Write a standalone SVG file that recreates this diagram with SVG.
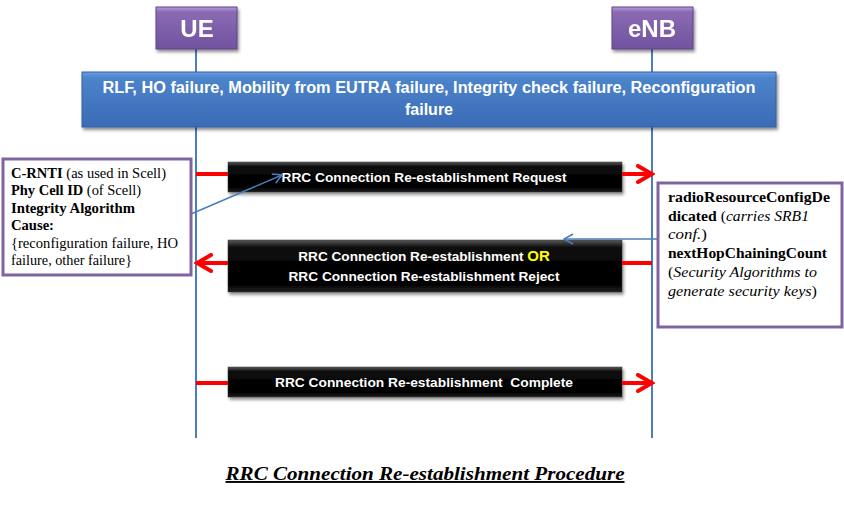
<svg xmlns="http://www.w3.org/2000/svg" width="844" height="506" viewBox="0 0 844 506">
<defs>
<linearGradient id="gPurple" x1="0" y1="0" x2="0" y2="1">
<stop offset="0" stop-color="#B79BDB"/><stop offset="0.12" stop-color="#8A6BB2"/><stop offset="1" stop-color="#7052A0"/>
</linearGradient>
<linearGradient id="gBlue" x1="0" y1="0" x2="0" y2="1">
<stop offset="0" stop-color="#6A9EE0"/><stop offset="0.1" stop-color="#4C84CC"/><stop offset="1" stop-color="#3A6BB4"/>
</linearGradient>
<linearGradient id="gBlack" x1="0" y1="0" x2="0" y2="1">
<stop offset="0" stop-color="#5a5a5a"/><stop offset="0.15" stop-color="#0a0a0a"/><stop offset="0.85" stop-color="#000"/><stop offset="1" stop-color="#222"/>
</linearGradient>
<filter id="shadow" x="-10%" y="-20%" width="120%" height="160%">
<feDropShadow dx="1.5" dy="2.5" stdDeviation="1.5" flood-color="#000" flood-opacity="0.45"/>
</filter>
<marker id="redArrow" markerUnits="userSpaceOnUse" viewBox="0 0 20 20" refX="17" refY="10" markerWidth="20" markerHeight="20" orient="auto">
<path d="M3,2 L17,10 L3,18" fill="none" stroke="#FF0000" stroke-width="4" stroke-linecap="round" stroke-linejoin="miter"/>
</marker>
<marker id="blueArrow" markerUnits="userSpaceOnUse" viewBox="0 0 12 12" refX="11" refY="6" markerWidth="12" markerHeight="12" orient="auto">
<path d="M2,1 L11,6 L2,11" fill="none" stroke="#4A7EBB" stroke-width="1.6"/>
</marker>
</defs>
<style>
.life{stroke:#4A7EBB;stroke-width:2;fill:none}
.msg{stroke:#FF0000;stroke-width:4;fill:none}
.head{marker-end:url(#redArrow)}
.note{stroke:#4A7EBB;stroke-width:1.5;fill:none;marker-end:url(#blueArrow)}
.actor{fill:url(#gPurple);stroke:#5E4589;stroke-width:1}
.actorText{font-family:"Liberation Sans",Arial,sans-serif;font-weight:bold;font-size:24px;fill:#fff;text-anchor:middle}
.banner{fill:url(#gBlue);stroke:#3461A3;stroke-width:1}
.bannerText{font-family:"Liberation Sans",Arial,sans-serif;font-weight:bold;font-size:16px;fill:#fff;text-anchor:middle}
.mbox{fill:url(#gBlack);stroke:#333;stroke-width:0.5}
.mText{font-family:"Liberation Sans",Arial,sans-serif;font-weight:bold;font-size:13px;fill:#fff;text-anchor:middle}
.infobox{fill:#fff;stroke:#8064A2;stroke-width:3}
.info{font-family:"Liberation Serif","Times New Roman",serif;font-size:14px;fill:#000}
.b{font-weight:bold}
.i{font-style:italic}
.title{font-family:"Liberation Serif","Times New Roman",serif;font-size:19px;font-weight:bold;font-style:italic;fill:#000;text-anchor:middle}
</style>

<g id="lifelines">
<line class="life" x1="196" y1="49" x2="196" y2="438"/>
<line class="life" x1="652" y1="49" x2="652" y2="438"/>
</g>

<g id="UE" filter="url(#shadow)">
<rect class="actor" x="156" y="7" width="81" height="42"/>
<text class="actorText" x="197" y="37">UE</text>
</g>
<g id="eNB" filter="url(#shadow)">
<rect class="actor" x="612" y="7" width="81" height="42"/>
<text class="actorText" x="652" y="37">eNB</text>
</g>

<g id="banner">
<rect class="banner" x="82" y="72" width="694" height="55" filter="url(#shadow)"/>
<text class="bannerText" x="429" y="93" textLength="653" lengthAdjust="spacingAndGlyphs">RLF, HO failure, Mobility from EUTRA failure, Integrity check failure, Reconfiguration</text>
<text class="bannerText" x="429" y="115" textLength="48" lengthAdjust="spacingAndGlyphs">failure</text>
</g>

<g id="msg-request">
<rect class="mbox" x="228" y="162" width="394" height="30" filter="url(#shadow)"/>
<text class="mText" x="424" y="182" textLength="285" lengthAdjust="spacingAndGlyphs">RRC Connection Re-establishment Request</text>
</g>

<g id="msg-reestablishment">
<rect class="mbox" x="228" y="240" width="394" height="52" filter="url(#shadow)"/>
<text class="mText" x="424" y="261"><tspan textLength="229" lengthAdjust="spacingAndGlyphs">RRC Connection Re-establishment </tspan><tspan fill="#FFFF00" font-size="15px">OR</tspan></text>
<text class="mText" x="424" y="281" textLength="271" lengthAdjust="spacingAndGlyphs">RRC Connection Re-establishment Reject</text>
</g>

<g id="msg-complete">
<rect class="mbox" x="228" y="367" width="394" height="30" filter="url(#shadow)"/>
<text class="mText" x="424" y="387" textLength="298" lengthAdjust="spacingAndGlyphs" xml:space="preserve">RRC Connection Re-establishment  Complete</text>
</g>

<g id="ue-info">
<rect class="infobox" x="3" y="159" width="188" height="116"/>
<text class="info" x="11" y="178" textLength="155" lengthAdjust="spacingAndGlyphs"><tspan class="b">C-RNTI</tspan> (as used in Scell)</text>
<text class="info" x="11" y="195" textLength="130" lengthAdjust="spacingAndGlyphs"><tspan class="b">Phy Cell ID</tspan> (of Scell)</text>
<text class="info b" x="11" y="213" textLength="124" lengthAdjust="spacingAndGlyphs">Integrity Algorithm</text>
<text class="info b" x="11" y="230" textLength="43" lengthAdjust="spacingAndGlyphs">Cause:</text>
<text class="info" x="11" y="248" textLength="167" lengthAdjust="spacingAndGlyphs">{reconfiguration failure, HO</text>
<text class="info" x="11" y="265" textLength="121" lengthAdjust="spacingAndGlyphs">failure, other failure}</text>
</g>

<g id="enb-info">
<rect class="infobox" x="658" y="183" width="184" height="144"/>
<text class="info b" x="668" y="202" textLength="162" lengthAdjust="spacingAndGlyphs">radioResourceConfigDe</text>
<text class="info" x="668" y="221" textLength="141" lengthAdjust="spacingAndGlyphs"><tspan class="b">dicated</tspan> (<tspan class="i">carries SRB1</tspan></text>
<text class="info i" x="668" y="239" textLength="39" lengthAdjust="spacingAndGlyphs">conf.<tspan font-style="normal">)</tspan></text>
<text class="info b" x="668" y="258" textLength="159" lengthAdjust="spacingAndGlyphs">nextHopChainingCount</text>
<text class="info" x="668" y="277" textLength="149" lengthAdjust="spacingAndGlyphs">(<tspan class="i">Security Algorithms to</tspan></text>
<text class="info" x="668" y="296" textLength="149" lengthAdjust="spacingAndGlyphs"><tspan class="i">generate security keys</tspan>)</text>
</g>

<g id="connectors">
<line class="msg" x1="196" y1="174" x2="228" y2="174"/>
<line class="msg head" x1="622" y1="174" x2="652" y2="174"/>
<line class="msg" x1="652" y1="263" x2="622" y2="263"/>
<line class="msg head" x1="228" y1="263" x2="197" y2="263"/>
<line class="msg" x1="196" y1="383" x2="228" y2="383"/>
<line class="msg head" x1="622" y1="383" x2="652" y2="383"/>
<line class="note" x1="191" y1="214" x2="282" y2="175"/>
<line class="note" x1="657" y1="239" x2="564" y2="239"/>
</g>

<g id="caption">
<text class="title" x="425" y="480" textLength="399" lengthAdjust="spacingAndGlyphs" style="text-decoration:underline">RRC Connection Re-establishment Procedure</text>
</g>
</svg>
